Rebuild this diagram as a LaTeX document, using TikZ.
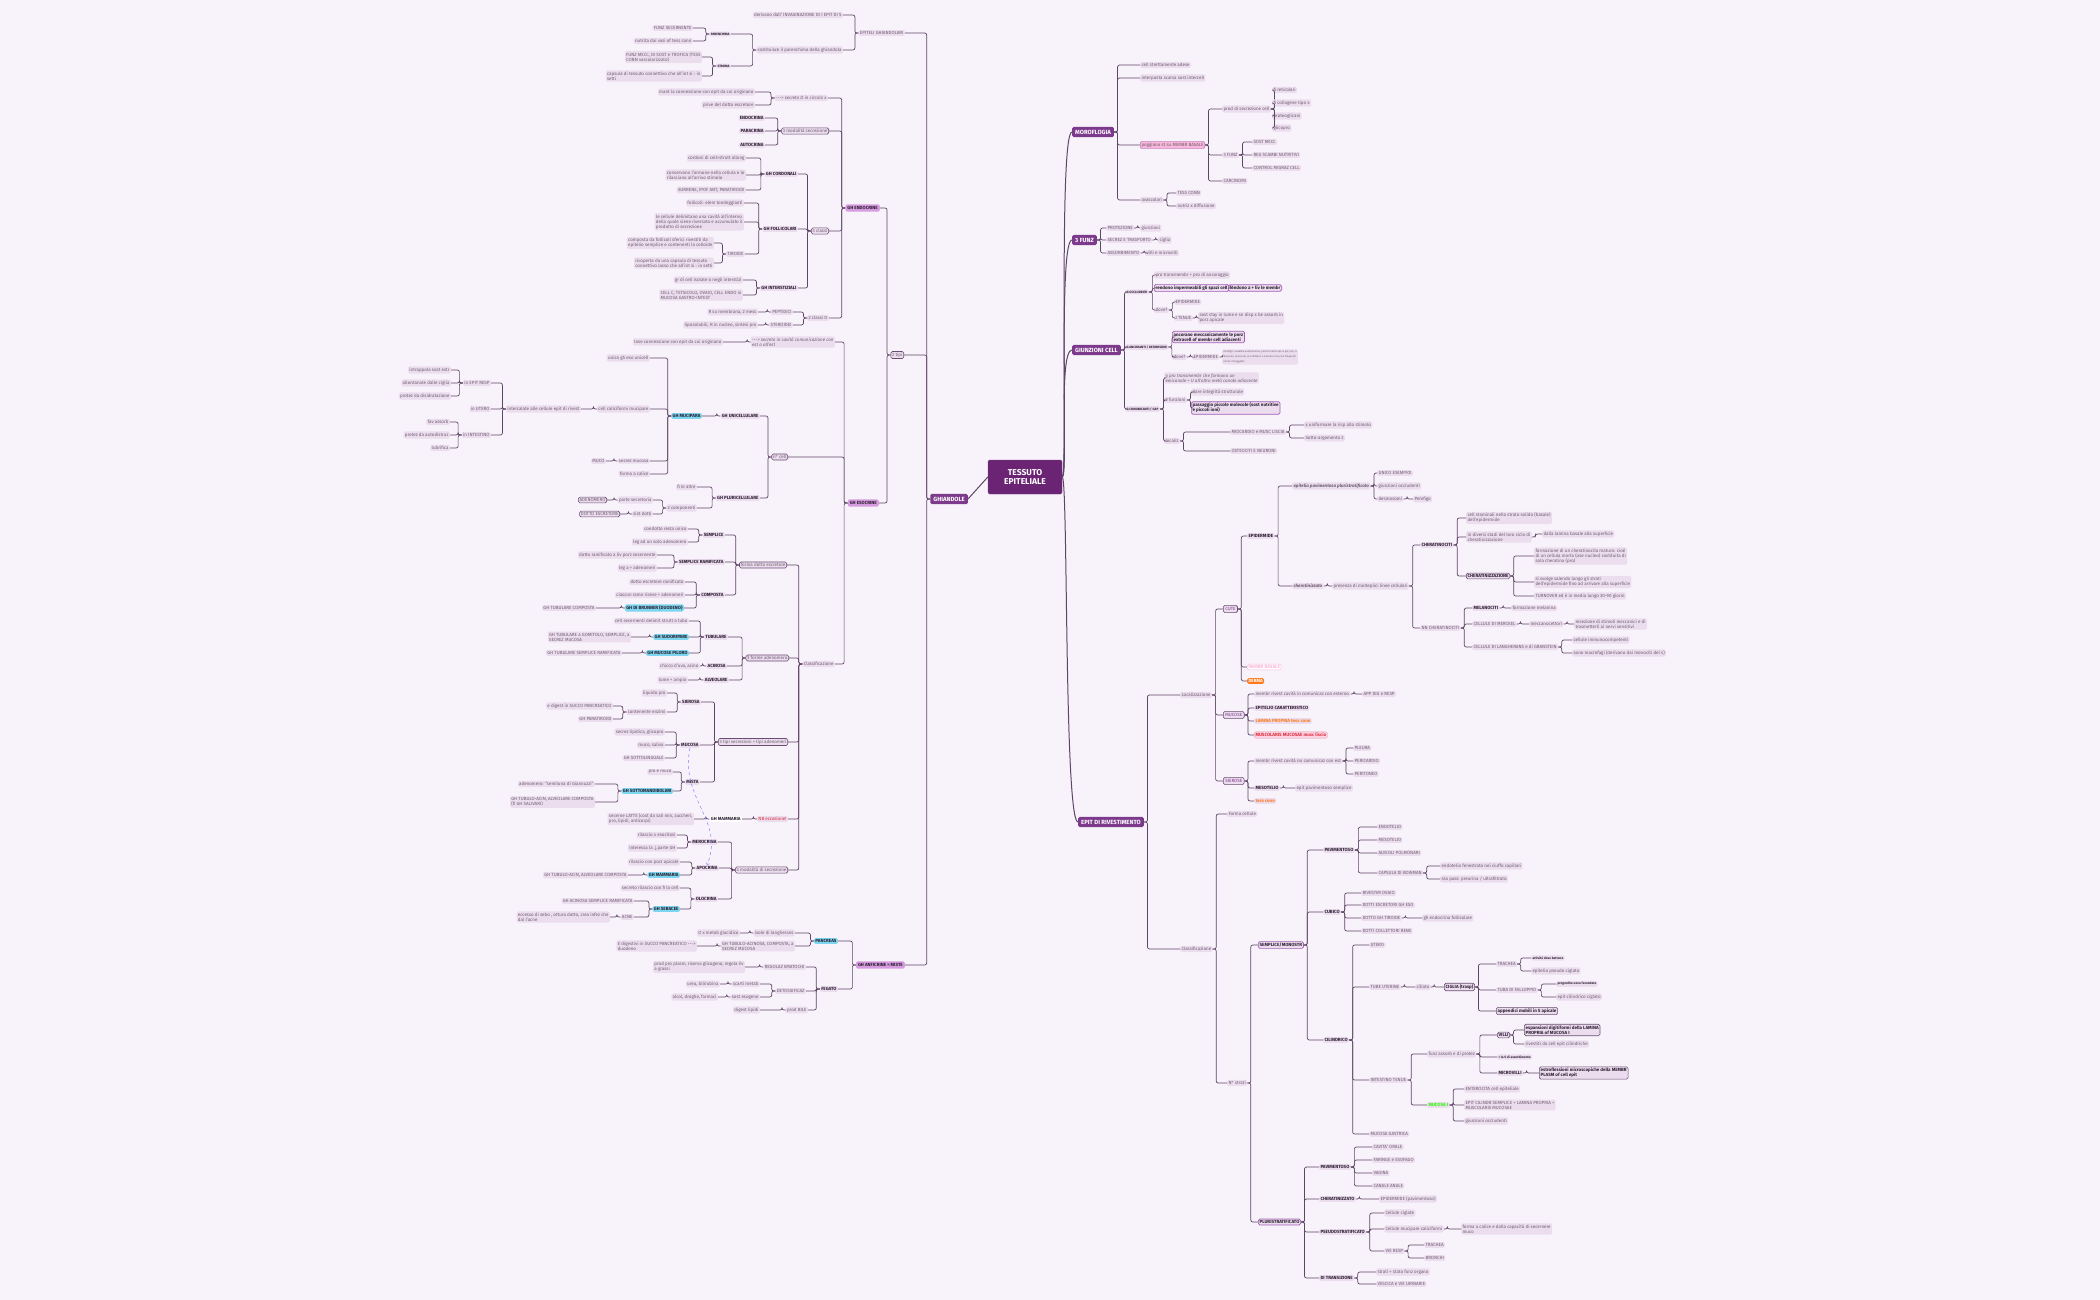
\documentclass[tikz,border=0pt]{standalone}
\usepackage{fontspec}
\setmainfont{Fira Sans}
\definecolor{bg}{HTML}{F8F3FA}
\definecolor{leaf}{HTML}{EBDCEE}
\definecolor{ltext}{HTML}{6E6070}
\definecolor{dtext}{HTML}{2E2233}
\definecolor{bord}{HTML}{6A4E72}
\definecolor{bordp}{HTML}{A45DB8}
\definecolor{cyan1}{HTML}{7DD6EF}
\definecolor{mainc}{HTML}{7D3A8C}
\definecolor{mainT}{HTML}{6A2473}
\definecolor{l2c}{HTML}{D79BE0}
\definecolor{linec}{HTML}{5E4666}
\definecolor{pinkc}{HTML}{F9B7DA}
\definecolor{orangec}{HTML}{FF7A1A}
\definecolor{redc}{HTML}{E0303A}
\tikzset{
 base/.style={rounded corners=1.5pt, inner sep=1.3pt, font=\fontsize{4.5}{5.1}\selectfont, align=left},
 lf/.style={base, fill=leaf, text=ltext},
 it/.style={lf, font=\fontsize{4.5}{5.1}\selectfont\itshape},
 bd/.style={base, fill=leaf, text=dtext, font=\fontsize{4.5}{5.1}\selectfont\bfseries},
 tb/.style={base, fill=leaf, text=dtext, font=\fontsize{3.2}{3.8}\selectfont\bfseries},
 bx/.style={lf, draw=bord, line width=0.6pt},
 bxb/.style={bd, draw=bordp, line width=0.7pt},
 bxp/.style={lf, text=mainc, draw=bord, line width=0.6pt, inner sep=2pt},
 cy/.style={bd, fill=cyan1},
 mn/.style={base, fill=mainc, text=white, font=\fontsize{6}{7}\selectfont\bfseries, inner sep=3pt},
 l2/.style={bd, fill=l2c, inner sep=2pt},
 cn/.style={draw=linec, line width=0.7pt, rounded corners=2pt},
 mc/.style={draw=linec, line width=1pt},
}
\newcommand\kR[6]{\node[#2,anchor=west] (#3) at (#4,#5) {#6}; \draw[cn] (#1.east) -- ++(3.5,0) |- (#3.west);}
\newcommand\kL[6]{\node[#2,anchor=east] (#3) at (#4,#5) {#6}; \draw[cn] (#1.west) -- ++(-3.5,0) |- (#3.east);}
\begin{document}
\begin{tikzpicture}[x=1pt,y=-1pt]
\fill[bg] (0,0) rectangle (2100,1300);
\useasboundingbox (0,0) rectangle (2100,1300);
% ---------- centre ----------
\node[mn, fill=mainT, font=\fontsize{8.5}{9.5}\selectfont\bfseries, align=center, minimum width=74, minimum height=34, draw=mainc] (T) at (1025,477) {TESSUTO\\EPITELIALE};
\node[mn,anchor=east] (GH) at (968,499) {GHIANDOLE};
\draw[mc] (T.west) -- (GH.east);
\node[mn,anchor=west] (MO) at (1072,132) {MOROFLOGIA};
\node[mn,anchor=west] (FZ) at (1072,240) {3 FUNZ};
\node[mn,anchor=west] (GC) at (1072,350) {GIUNZIONI CELL};
\node[mn,anchor=west] (ER) at (1078,822) {EPIT DI RIVESTIMENTO};
\foreach \n in {MO,FZ,GC,ER} \draw[mc] (T.east) .. controls +(6,0) and +(-14,0) .. (\n.west);
% ---------- MORFOLOGIA ----------
\kR{MO}{lf}{m1}{1140}{65}{cell strettamente adese}
\kR{MO}{lf}{m2}{1140}{78}{interposta scarsa sost intercell}
\kR{MO}{lf}{m3}{1140}{145}{poggiano st su MEMBR BASALE}
\node[base,fill=pinkc,text=ltext,draw=bordp,anchor=west] at (m3.west) {poggiano st su MEMBR BASALE};
\kR{MO}{lf}{m4}{1140}{200}{avascolari}
\kR{m3}{lf}{m31}{1222}{109}{prod di secrezione cell}
\kR{m3}{lf}{m32}{1222}{155}{3 FUNZ}
\kR{m3}{lf}{m33}{1222}{181}{CARCINOMI}
\kR{m31}{lf}{m311}{1272}{90}{fi reticolari}
\kR{m31}{lf}{m312}{1272}{103}{fi collagene tipo 4}
\kR{m31}{lf}{m313}{1272}{116}{proteoglicani}
\kR{m31}{lf}{m314}{1272}{128}{glicopro}
\kR{m32}{lf}{m321}{1252}{142}{SOST MECC}
\kR{m32}{lf}{m322}{1252}{155}{REG SCAMBI NUTRITIVI}
\kR{m32}{lf}{m323}{1252}{168}{CONTROL MIGRAZ CELL}
\kR{m4}{lf}{m41}{1176}{193}{TESS CONN}
\kR{m4}{lf}{m42}{1176}{206}{nutriz x diffusione}
% ---------- 3 FUNZ ----------
\kR{FZ}{lf}{f1}{1106}{228}{PROTEZIONE}
\kR{FZ}{lf}{f2}{1106}{240}{SECREZ E TRASPORTO}
\kR{FZ}{lf}{f3}{1106}{253}{ASSORBIMENTO}
\kR{f1}{lf}{f11}{1140}{228}{giunzioni}
\kR{f2}{lf}{f21}{1158}{240}{ciglia}
\kR{f3}{lf}{f31}{1145}{253}{villi e microvilli}
% ---------- GIUNZIONI ----------
\kR{GC}{tb}{g1}{1125}{292}{G OCCLUDENTI}
\kR{GC}{tb}{g2}{1125}{347}{G ANCORANTI / DESMOSOMI}
\kR{GC}{tb}{g3}{1125}{409}{G COMUNICANTI / GAP}
\kR{g1}{lf}{g11}{1154}{275}{pro transmembr + pro di ancoraggio}
\kR{g1}{bxb}{g12}{1154}{288}{rendono impermeabili gli spazi cell}
\kR{g12}{bxb}{g121}{1228}{288}{fondono a + liv le membr}
\kR{g1}{lf}{g13}{1154}{310}{dove?}
\kR{g13}{lf}{g131}{1174}{302}{EPIDERMIDE}
\kR{g13}{lf}{g132}{1174}{318}{I TENUE}
\kR{g132}{lf}{g1321}{1198}{318}{sost stay in lume e sn disp x be assorb in\\porz apicale}
\kR{g2}{bxb}{g21}{1172}{337}{ancorano meccanicamente le porz\\extracell of membr cell adiacenti}
\kR{g2}{lf}{g22}{1172}{357}{dove?}
\kR{g22}{lf}{g221}{1192}{357}{EPIDERMIDE}
\kR{g221}{lf}{g2211}{1222}{357}{\fontsize{2.6}{3}\selectfont Pemfigo: malattia autoimmune, prod di anticorpi vs qst pro, si\\\fontsize{2.6}{3}\selectfont staccano, vescicole, se infettano e bucano la bp con frequenti\\\fontsize{2.6}{3}\selectfont morte of soggetto}
\kR{g3}{it}{g31}{1164}{378}{4 pro transmembr che formano un\\emicanale = U all'altra metà canale adiacente}
\kR{g3}{lf}{g32}{1164}{400}{2 funzioni}
\kR{g32}{lf}{g321}{1191}{392}{dare integrità strutturale}
\kR{g32}{bxb}{g322}{1191}{408}{passaggio piccole molecole (sost nutritive\\e piccoli ioni)}
\kR{g3}{lf}{g33}{1164}{441}{localiz}
\kR{g33}{lf}{g331}{1230}{432}{MIOCARDIO e MUSC LISCIA}
\kR{g33}{lf}{g332}{1230}{451}{OSTEOCITI E NEURONI}
\kR{g331}{lf}{g3311}{1304}{425}{x uniformare la risp allo stimolo}
\kR{g331}{lf}{g3312}{1304}{438}{Sotto-argomento 2}
% ---------- EPIT DI RIVESTIMENTO ----------
\kR{ER}{lf}{r1}{1180}{695}{Localizzazione}
\kR{ER}{lf}{r2}{1180}{949}{Classificazione}
\kR{r1}{bxp}{cu}{1223}{609}{CUTE}
\kR{r1}{bxp}{mu}{1223}{715}{MUCOSE}
\kR{r1}{bxp}{si}{1223}{781}{SIEROSE}
\kR{cu}{bd}{ep}{1247}{536}{EPIDERMIDE}
\kR{cu}{base}{mb}{1247}{667}{\textcolor{pinkc}{\bfseries MEMBR BASALE}}
\node[base,draw=pinkc,fill=white,anchor=west] at (mb.west) {\textcolor{pinkc}{\bfseries MEMBR BASALE}};
\kR{cu}{base}{de}{1247}{681}{\textcolor{white}{\bfseries DERMA}}
\node[base,fill=orangec,text=white,font=\fontsize{4.5}{5.1}\selectfont\bfseries,anchor=west] at (de.west) {DERMA};
\kR{ep}{it}{e1}{1292}{486}{\bfseries epitelio pavimentoso pluristratificato}
\kR{ep}{it}{e2}{1292}{586}{\bfseries cheratinizzato}
\kR{e1}{lf}{e11}{1377}{473}{UNICO ESEMPIO!}
\kR{e1}{lf}{e12}{1377}{486}{giunzioni occludenti}
\kR{e1}{lf}{e13}{1377}{499}{desmosomi}
\kR{e13}{lf}{e131}{1413}{499}{Pemfigo}
\kR{e2}{lf}{e21}{1332}{586}{presenza di molteplici linee cellulari}
\kR{e21}{bd}{k1}{1420}{545}{CHERATINOCITI}
\kR{e21}{lf}{k2}{1420}{628}{NN CHERATINOCITI}
\kR{k1}{lf}{k11}{1466}{518}{cell staminali nello strato solido (basale)\\dell'epidermide}
\kR{k1}{lf}{k12}{1466}{537}{in diversi stadi del loro ciclo di\\cheratinizzazione}
\kR{k12}{lf}{k121}{1542}{534}{dalla lamina basale alla superficie}
\kR{k1}{bx}{k13}{1466}{576}{\bfseries\color{dtext}CHERATINIZZAZIONE}
\kR{k13}{lf}{k131}{1534}{556}{formazione di un cheratinocita maturo: cioè\\di un cellula morta (ose nucleo) costituita di\\sola cheratina (pro)}
\kR{k13}{lf}{k132}{1534}{582}{si svolge salendo lungo gli strati\\dell'epidermide fino ad arrivare alla superficie}
\kR{k13}{lf}{k133}{1534}{596}{TURNOVER ed è in media lungo 30-90 giorni}
\kR{k2}{bd}{k21}{1472}{608}{MELANOCITI}
\kR{k21}{lf}{k211}{1511}{608}{formazione melanina}
\kR{k2}{lf}{k22}{1472}{624}{CELLULE DI MERCKEL}
\kR{k22}{lf}{k221}{1529}{624}{meccanocettori}
\kR{k221}{lf}{k2211}{1574}{624}{recezione di stimoli meccanici e di\\trasmetterli ai nervi sensitivi}
\kR{k2}{lf}{k23}{1472}{647}{CELLULE DI LANGHERANS e di GRANSTEIN}
\kR{k23}{lf}{k231}{1572}{640}{cellule immunocompetenti}
\kR{k23}{lf}{k232}{1572}{653}{sono macrofagi (derivano dai monociti del s)}
\kR{mu}{lf}{u1}{1254}{694}{membr rivest cavità in comunicaz con esterno}
\kR{u1}{lf}{u11}{1362}{694}{APP DIG e RESP}
\kR{mu}{bd}{u2}{1254}{708}{EPITELIO CARATTERISTICO}
\kR{mu}{base}{u3}{1254}{721}{\textcolor{orangec}{\bfseries LAMINA PROPRIA tess conn}}
\node[base,fill=leaf,text=orangec,font=\fontsize{4.5}{5.1}\selectfont\bfseries,anchor=west] at (u3.west) {LAMINA PROPRIA tess conn};
\kR{mu}{base}{u4}{1254}{735}{\textcolor{redc}{\bfseries MUSCOLARIS MUCOSAE musc liscio}}
\node[base,fill=pinkc!60,draw=redc!50,text=redc,font=\fontsize{4.5}{5.1}\selectfont\bfseries,anchor=west] at (u4.west) {MUSCOLARIS MUCOSAE musc liscio};
\kR{si}{lf}{s1}{1254}{761}{membr rivest cavità no comunicaz con est}
\kR{s1}{lf}{s11}{1353}{748}{PLEURA}
\kR{s1}{lf}{s12}{1353}{761}{PERICARDIO}
\kR{s1}{lf}{s13}{1353}{774}{PERITONEO}
\kR{si}{bd}{s2}{1254}{788}{MESOTELIO}
\kR{s2}{lf}{s21}{1295}{788}{epit pavimentoso semplice}
\kR{si}{base}{s3}{1254}{801}{\textcolor{orangec}{\bfseries tess conn}}
\node[base,fill=leaf,text=orangec,font=\fontsize{4.5}{5.1}\selectfont\bfseries,anchor=west] at (s3.west) {tess conn};
% classificazione
\kR{r2}{lf}{c1}{1227}{814}{Forma cellule}
\kR{r2}{lf}{c2}{1227}{1083}{N° strati}
\kR{c2}{bxb}{sm}{1258}{945}{SEMPLICE/MONOSTR}
\kR{c2}{bxb}{pl}{1258}{1222}{PLURISTRATIFICATO}
\kR{sm}{bd}{p1}{1323}{850}{PAVIMENTOSO}
\kR{sm}{bd}{p2}{1323}{912}{CUBICO}
\kR{sm}{bd}{p3}{1323}{1040}{CILINDRICO}
\kR{p1}{lf}{p11}{1377}{827}{ENDOTELIO}
\kR{p1}{lf}{p12}{1377}{840}{MESOTELIO}
\kR{p1}{lf}{p13}{1377}{853}{ALVEOLI POLMONARI}
\kR{p1}{lf}{p14}{1377}{873}{CAPSULA DI BOWMAN}
\kR{p14}{lf}{p141}{1440}{866}{endotelio fenestrato nei ciuffo capillari}
\kR{p14}{lf}{p142}{1440}{879}{ssa pass: preurina / ultrafiltrato}
\kR{p2}{lf}{p21}{1361}{893}{RIVESTIM OVAIO}
\kR{p2}{lf}{p22}{1361}{905}{DOTTI ESCRETORI GH ESO}
\kR{p2}{lf}{p23}{1361}{918}{DOTTO GH TIROIDE}
\kR{p23}{lf}{p231}{1422}{918}{gh endocrina follicolare}
\kR{p2}{lf}{p24}{1361}{931}{DOTTI COLLETTORI RENE}
\kR{p3}{lf}{p31}{1369}{945}{UTERO}
\kR{p3}{lf}{p32}{1369}{987}{TUBE UTERINE}
\kR{p32}{lf}{p321}{1415}{987}{ciliato}
\kR{p321}{bx}{p3211}{1444}{987}{\bfseries\color{dtext}CIGLIA (trasp)}
\kR{p3211}{lf}{q1}{1496}{964}{TRACHEA}
\kR{q1}{tb}{q11}{1531}{958}{attività dove battono}
\kR{q1}{lf}{q12}{1531}{971}{epitelio pseudo ciglato}
\kR{p3211}{lf}{q2}{1496}{990}{TUBA DI FALLOPPIO}
\kR{q2}{tb}{q21}{1556}{984}{progredire uovo fecondato}
\kR{q2}{lf}{q22}{1556}{997}{epit cilindrico ciglato}
\kR{p3211}{bx}{q3}{1496}{1011}{\bfseries\color{dtext}appendici mobili in S apicale}
\kR{p3}{lf}{p33}{1369}{1080}{INTESTINO TENUE}
\kR{p33}{lf}{t1}{1427}{1054}{funz assorb e di protez}
\kR{t1}{bx}{t11}{1497}{1035}{\bfseries\color{dtext}VILLI}
\kR{t11}{bx}{t111}{1524}{1030}{\bfseries\color{dtext}espansioni digitiformi della LAMINA\\\bfseries\color{dtext}PROPRIA of MUCOSA I}
\kR{t11}{lf}{t112}{1524}{1044}{rivestiti da cell epit cilindriche}
\kR{t1}{tb}{t12}{1497}{1057}{> la S di assorbimento}
\kR{t1}{bd}{t13}{1497}{1073}{MICROVILLI}
\kR{t13}{bx}{t131}{1539}{1073}{\bfseries\color{dtext}estroflessioni microscopiche della MEMBR\\\bfseries\color{dtext}PLASM of cell epit}
\kR{p33}{base}{t2}{1427}{1105}{\textcolor{green!75!black}{\bfseries MUCOSA I}}
\node[base,fill=leaf,text=green!80!lime,font=\fontsize{4.5}{5.1}\selectfont\bfseries,anchor=west] at (t2.west) {MUCOSA I};
\kR{t2}{lf}{t21}{1464}{1089}{ENTEROCITA cell epiteliale}
\kR{t2}{lf}{t22}{1464}{1105}{EPIT CILINDR SEMPLICE + LAMINA PROPRIA +\\MUSCOLARIS MUCOSAE}
\kR{t2}{lf}{t23}{1464}{1121}{giunzioni occludenti}
\kR{p3}{lf}{p34}{1369}{1134}{MUCOSA GASTRICA}
\kR{pl}{bd}{v1}{1319}{1167}{PAVIMENTOSO}
\kR{pl}{bd}{v2}{1319}{1199}{CHERATINIZZATO}
\kR{pl}{bd}{v3}{1319}{1232}{PSEUDOSTRATIFICATO}
\kR{pl}{bd}{v4}{1319}{1278}{DI TRANSIZIONE}
\kR{v1}{lf}{v11}{1372}{1147}{CAVITA' ORALE}
\kR{v1}{lf}{v12}{1372}{1160}{FARINGE e ESOFAGO}
\kR{v1}{lf}{v13}{1372}{1173}{VAGINA}
\kR{v1}{lf}{v14}{1372}{1186}{CANALE ANALE}
\kR{v2}{lf}{v21}{1379}{1199}{EPIDERMIDE (pavimentoso)}
\kR{v3}{lf}{v31}{1384}{1213}{Cellule ciglate}
\kR{v3}{lf}{v32}{1384}{1229}{Cellule mucipare caliciformi}
\kR{v32}{lf}{v321}{1461}{1229}{forma a calice e dalla capacità di secernere\\muco}
\kR{v3}{lf}{v33}{1384}{1251}{VIE RESP}
\kR{v33}{lf}{v331}{1424}{1245}{TRACHEA}
\kR{v33}{lf}{v332}{1424}{1258}{BRONCHI}
\kR{v4}{lf}{v41}{1376}{1272}{strati = stato funz organo}
\kR{v4}{lf}{v42}{1376}{1284}{VESCICA e VIE URINARIE}
% ---------- GHIANDOLE (left) ----------
\kL{GH}{lf}{G1}{905}{33}{EPITELI GHIANDOLARI}
\kL{GH}{bx}{G2}{904}{355}{2 tipi}
\kL{GH}{l2}{G3}{905}{965}{GH ANFICRINE = MISTE}
\kL{G2}{l2}{EN}{880}{208}{GH ENDOCRINE}
\kL{G2}{l2}{ES}{879}{503}{GH ESOCRINE}
\kL{G1}{lf}{a1}{843}{15}{derivano dall' INVAGINAZIONE DI I EPIT DI S}
\kL{G1}{lf}{a2}{843}{50}{costituisce il parenchima della ghiandola}
\kL{a2}{tb}{a21}{731}{34}{PARENCHIMA}
\kL{a2}{tb}{a22}{731}{66}{STROMA}
\kL{a21}{lf}{a211}{693}{28}{FUNZ SECERNENTE}
\kL{a21}{lf}{a212}{693}{41}{nutrita dai vasi of tess conn}
\kL{a22}{lf}{a221}{702}{57}{FUNZ MECC, DI SOST e TROFICA (TESS\\CONN vascolarizzato)}
\kL{a22}{lf}{a222}{702}{76}{capsula di tessuto connettivo che all'int si : in\\setti}
% endocrine
\kL{EN}{it}{b1}{828}{98}{{-}{-}{-}> secreto O in circolo x}
\kL{b1}{lf}{b11}{755}{92}{mant la connessione con epit da cui originano}
\kL{b1}{lf}{b12}{755}{105}{prive del dotto escretore}
\kL{EN}{bx}{b2}{829}{131}{3 modalità secrezione}
\kL{b2}{bd}{b21}{765}{118}{ENDOCRINA}
\kL{b2}{bd}{b22}{765}{131}{PARACRINA}
\kL{b2}{bd}{b23}{765}{145}{AUTOCRINA}
\kL{EN}{bx}{b3}{829}{231}{3 classi}
\kL{b3}{bd}{b31}{798}{174}{GH CORDONALI}
\kL{b3}{bd}{b32}{798}{229}{GH FOLLICOLARI}
\kL{b3}{bd}{b33}{798}{288}{GH INTERSTIZIALI}
\kL{b31}{lf}{b311}{746}{158}{cordoni di cell=strutt allung}
\kL{b31}{lf}{b312}{746}{175}{conservano l'ormone nella cellula e lo\\rilasciano all'arrivo stimolo}
\kL{b31}{lf}{b313}{746}{190}{SURRENE, IPOF ANT, PARATIROIDI}
\kL{b32}{lf}{b321}{744}{203}{follicoli: elem tondeggianti}
\kL{b32}{lf}{b322}{744}{222}{le cellule delimitano una cavità all'interno\\della quale viene riversato e accumulato il\\prodotto di secrezione}
\kL{b32}{lf}{b323}{745}{254}{TIROIDE}
\kL{b323}{lf}{b3231}{714}{243}{composta da follicoli sferici rivestiti da\\epitelio semplice e contenenti la colloide}
\kL{b323}{lf}{b3232}{714}{263}{ricoperta da una capsula di tessuto\\connettivo lasso che all'int si : in setti}
\kL{b33}{lf}{b331}{743}{280}{gr di cell isolate o negli interstizi}
\kL{b33}{lf}{b332}{743}{295}{CELL C, TETSICOLO, OVAIO, CELL ENDO in\\MUCOSA GASTRO-INTEST}
\kL{EN}{lf}{b4}{829}{318}{2 classi O}
\kL{b4}{lf}{b41}{793}{312}{PEPTIDICI}
\kL{b4}{lf}{b42}{793}{325}{STEROIDEI}
\kL{b41}{lf}{b411}{758}{312}{R su membrana, 2 mess}
\kL{b42}{lf}{b421}{758}{325}{liposolubili, R in nucleo, sintesi pro}
% esocrine
\kL{ES}{it}{d1}{835}{342}{{-}{-}{-}> secreto in cavità comunicazione con\\est o all'est}
\kL{d1}{lf}{d11}{723}{342}{lose connessione con epit da cui originano}
\kL{ES}{bx}{d2}{788}{457}{n° cell}
\kL{d2}{bd}{d21}{760}{416}{GH UNICELLULARE}
\kL{d21}{cy}{mp}{702}{416}{GH MUCIPARA}
\kL{mp}{lf}{mp1}{650}{358}{unica gh eso unicell}
\kL{mp}{lf}{mp2}{650}{409}{cell caliciformi mucipare}
\kL{mp2}{lf}{mp21}{581}{409}{intercalate alle cellule epit di rivest}
\kL{mp21}{lf}{x1}{491}{383}{in EPIT RESP}
\kL{mp21}{lf}{x2}{491}{409}{in UTERO}
\kL{mp21}{lf}{x3}{491}{435}{in INTESTINO}
\kL{x1}{lf}{x11}{451}{370}{intrappola sost estr}
\kL{x1}{lf}{x12}{451}{383}{allontanate dalle ciglia}
\kL{x1}{lf}{x13}{451}{396}{protez da disidratazione}
\kL{x3}{lf}{x31}{450}{422}{fav assorb}
\kL{x3}{lf}{x32}{450}{435}{protez da autodistruz}
\kL{x3}{lf}{x33}{450}{448}{lubrifica}
\kL{mp}{lf}{mp3}{650}{461}{secrez mucosa}
\kL{mp3}{lf}{mp31}{606}{461}{MUCO}
\kL{mp}{lf}{mp4}{650}{474}{forma a calice}
\kL{d2}{bd}{d22}{760}{498}{GH PLURICELLULARE}
\kL{d22}{lf}{d221}{697}{487}{fi le altre}
\kL{d22}{lf}{d222}{697}{508}{2 componenti}
\kL{d222}{lf}{d2221}{653}{500}{parte secretoria}
\kL{d222}{lf}{d2222}{653}{514}{sist dotti}
\kL{d2221}{bx}{d22211}{607}{500}{ADENOMERO}
\kL{d2222}{bx}{d22221}{620}{514}{DOTTO ESCRETORE}
\kL{ES}{lf}{d3}{835}{664}{Classificazione}
\kL{d3}{bx}{h1}{787}{565}{forma dotto escretore}
\kL{h1}{bd}{h11}{725}{535}{SEMPLICE}
\kL{h1}{bd}{h12}{725}{562}{SEMPLICE RAMIFICATA}
\kL{h1}{bd}{h13}{725}{595}{COMPOSTA}
\kL{h11}{lf}{h111}{688}{529}{condotto resta unico}
\kL{h11}{lf}{h112}{688}{542}{leg ad un solo adenomero}
\kL{h12}{lf}{h121}{657}{555}{dotto ramificato a liv porz secernente}
\kL{h12}{lf}{h122}{657}{568}{leg a + adenomeri}
\kL{h13}{lf}{h131}{685}{582}{dotto escretore ramificato}
\kL{h13}{lf}{h132}{685}{595}{ciascun ramo riceve + adenomeri}
\kL{h13}{cy}{h133}{684}{608}{GH DI BRUNNER (DUODENO)}
\kL{h133}{lf}{h1331}{596}{608}{GH TUBULARE COMPOSTA}
\kL{d3}{bx}{h2}{789}{658}{3 forme adenomero}
\kL{h2}{bd}{h21}{728}{637}{TUBULARE}
\kL{h2}{bd}{h22}{727}{666}{ACINOSA}
\kL{h2}{bd}{h23}{729}{680}{ALVEOLARE}
\kL{h21}{lf}{h211}{689}{621}{cell secernenti delimit strutt a tubo}
\kL{h21}{cy}{h212}{689}{637}{GH SUDORIPARE}
\kL{h212}{lf}{h2121}{631}{637}{GH TUBULARE a GOMITOLO, SEMPLICE, a\\SECREZ MUCOSA}
\kL{h21}{cy}{h213}{689}{653}{GH MUCOSE PILORO}
\kL{h213}{lf}{h2131}{622}{653}{GH TUBULARE SEMPLICE RAMIFICATA}
\kL{h22}{lf}{h221}{700}{666}{chicco d'uva, acino}
\kL{h23}{lf}{h231}{688}{680}{lume + ampio}
\kL{d3}{bx}{h3}{788}{742}{3 tipi secrezioni = tipi adenomeri}
\kL{h3}{bd}{h31}{701}{702}{SIEROSA}
\kL{h3}{bd}{h32}{700}{745}{MUCOSA}
\kL{h3}{bd}{h33}{700}{782}{MISTA}
\kL{h31}{lf}{h311}{667}{693}{liquido pro}
\kL{h31}{lf}{h312}{667}{712}{contenente enzimi}
\kL{h312}{lf}{h3121}{613}{706}{e digest in SUCCO PANCREATICO}
\kL{h312}{lf}{h3122}{613}{719}{GH PARATIROIDI}
\kL{h32}{lf}{h321}{665}{732}{secrez lipidica, glicopro}
\kL{h32}{lf}{h322}{665}{745}{muco, saliva}
\kL{h32}{lf}{h323}{665}{758}{GH SOTTOLINGUALE}
\kL{h33}{lf}{h331}{673}{772}{pro e muco}
\kL{h33}{cy}{h332}{673}{791}{GH SOTTOMANDIBOLARI}
\kL{h332}{lf}{h3321}{595}{784}{adenomero: "semiluna di Giannuzzi"}
\kL{h332}{lf}{h3322}{595}{802}{GH TUBULO-ACIN, ALVEOLARE COMPOSTA\\(fi GH SALIVARI)}
\kL{d3}{lf}{h4}{788}{819}{\textcolor{redc}{NB eccezione!}}
\kL{h4}{base}{h41}{742}{819}{\bfseries\color{dtext}GH MAMMARIA}
\node[base,fill=white,text=dtext,font=\fontsize{4.5}{5.1}\selectfont\bfseries,anchor=east] at (h41.east) {GH MAMMARIA};
\kL{h41}{lf}{h411}{694}{819}{secerne LATTE (cost da sali min, zuccheri,\\pro, lipidi, anticorpi)}
\kL{d3}{bx}{h5}{788}{870}{3 modalità di secrezione}
\kL{h5}{bd}{h51}{718}{842}{MEROCRINA}
\kL{h5}{bd}{h52}{719}{868}{APOCRINA}
\kL{h5}{bd}{h53}{718}{899}{OLOCRINA}
\kL{h51}{lf}{h511}{677}{835}{rilascio x esocitosi}
\kL{h51}{lf}{h512}{677}{848}{interessa la $\downarrow$parte GH}
\kL{h52}{lf}{h521}{680}{862}{rilascio con porz apicale}
\kL{h52}{cy}{h522}{680}{875}{GH MAMMARIA}
\kL{h522}{lf}{h5221}{628}{875}{GH TUBULO-ACIN, ALVEOLARE COMPOSTA}
\kL{h53}{lf}{h531}{680}{888}{secreto rilascio con fi la cell}
\kL{h53}{cy}{h532}{680}{909}{GH SEBACEE}
\kL{h532}{lf}{h5321}{634}{901}{GH ACINOSA SEMPLICE RAMIFICATA}
\kL{h532}{lf}{h5322}{634}{917}{ACNE}
\kL{h5322}{lf}{h53221}{610}{917}{eccesso di sebo , ottura dotto, crea infez che\\dal l'acne}
\draw[blue!50, dashed, line width=0.5pt, ->] (h32.south) .. controls (680,800) and (725,820) .. (h52.north);
% anficrine
\kL{G3}{cy}{n1}{838}{941}{PANCREAS}
\kL{G3}{bd}{n2}{838}{989}{FEGATO}
\kL{n1}{lf}{n11}{795}{933}{isole di langherans}
\kL{n11}{lf}{n111}{740}{933}{O x metab glucidico}
\kL{n1}{lf}{n12}{795}{946}{GH TUBULO-ACINOSA, COMPOSTA, a\\SECREZ MUCOSA}
\kL{n12}{lf}{n121}{697}{946}{E digestivi in SUCCO PANCREATICO {-}{-}->\\duodeno}
\kL{n2}{lf}{n21}{806}{967}{REGOLAZ EMATOCHI}
\kL{n21}{lf}{n211}{745}{967}{prod pro plasm, riserva glicogeno, regola liv\\a grassi}
\kL{n2}{lf}{n22}{806}{991}{DETOSSIFICAZ}
\kL{n22}{lf}{n221}{760}{984}{scarti metab}
\kL{n221}{lf}{n2211}{720}{984}{urea, bilirubina}
\kL{n22}{lf}{n222}{760}{997}{sost esogene}
\kL{n222}{lf}{n2221}{718}{997}{alcol, droghe, farmaci}
\kL{n2}{lf}{n23}{808}{1010}{prod BILE}
\kL{n23}{lf}{n231}{760}{1010}{digest lipidi}
\end{tikzpicture}
\end{document}
